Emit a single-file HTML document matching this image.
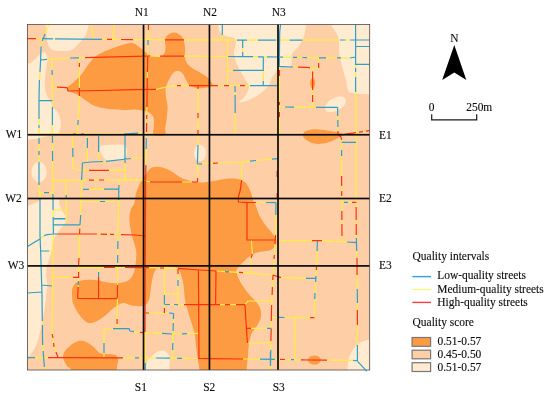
<!DOCTYPE html>
<html><head><meta charset="utf-8"><title>Street quality map</title>
<style>
html,body{margin:0;padding:0;background:#fff;}
body{width:550px;height:399px;overflow:hidden;position:relative;font-family:"Liberation Serif",serif;}
svg{position:absolute;left:0;top:0;}
text{font-family:"Liberation Serif",serif;font-size:11.45px;fill:#0c0c0c;stroke:#0c0c0c;stroke-width:0.12px;}
.st{fill:none;stroke-width:1.2;stroke-linecap:butt;stroke-linejoin:round}
.y{stroke:#ffee40}.b{stroke:#2f9fc8}.r{stroke:#ff3010}
</style></head><body>
<svg width="550" height="399" viewBox="0 0 550 399">
<defs><clipPath id="mc"><rect x="27.4" y="24.45" width="342.3" height="345.55"/></clipPath></defs>

<rect x="27.4" y="24.45" width="342.3" height="345.55" fill="#fecfa6"/>
<g clip-path="url(#mc)">
<path d="M49.6,14.0C43.0,18.0 47.0,32.5 47.0,38.0C47.0,43.5 48.3,44.9 49.6,47.0C50.9,49.1 51.3,49.8 54.7,50.4C58.1,51.0 66.0,51.6 70.0,50.4C74.0,49.2 76.2,46.2 78.9,43.3C81.7,40.4 85.2,37.9 86.5,33.0C87.8,28.1 92.7,17.2 86.5,14.0C80.3,10.8 56.2,10.0 49.6,14.0Z" fill="#feebd0"/>
<path d="M20.0,72.0C22.0,59.9 28.4,65.2 32.0,62.0C35.6,58.8 39.4,54.5 41.6,53.0C43.8,51.5 44.4,51.9 45.4,53.0C46.4,54.1 47.5,56.1 47.5,59.5C47.5,62.9 45.8,68.2 45.4,73.5C45.0,78.8 44.5,86.3 45.4,91.0C46.2,95.7 49.2,98.7 50.5,101.5C51.8,104.3 51.8,106.2 53.0,108.0C54.2,109.8 56.7,110.1 58.0,112.6C59.3,115.1 60.5,119.6 60.7,122.8C60.9,126.0 60.7,129.7 59.4,131.7C58.1,133.7 59.6,134.5 53.0,135.0C46.4,135.5 25.5,145.0 20.0,134.5C14.5,124.0 18.0,84.1 20.0,72.0Z" fill="#feebd0"/>
<path d="M46.5,172.0C46.5,173.7 46.1,175.6 45.5,177.0C44.9,178.4 43.8,179.8 42.8,180.7C41.7,181.5 40.2,182.0 39.0,182.0C37.8,182.0 36.3,181.5 35.2,180.7C34.2,179.8 33.1,178.4 32.5,177.0C31.9,175.6 31.5,173.7 31.5,172.0C31.5,170.3 31.9,168.4 32.5,167.0C33.1,165.6 34.2,164.2 35.2,163.3C36.3,162.5 37.8,162.0 39.0,162.0C40.2,162.0 41.7,162.5 42.8,163.3C43.8,164.2 44.9,165.6 45.5,167.0C46.1,168.4 46.5,170.3 46.5,172.0Z" fill="#feebd0"/>
<path d="M100.0,148.0C100.2,146.8 100.7,146.0 102.0,145.5C103.3,145.0 105.0,145.2 108.0,145.0C111.0,144.8 117.2,144.5 120.0,144.6C122.8,144.7 123.8,144.6 125.0,145.5C126.2,146.4 126.8,148.2 127.0,150.0C127.2,151.8 127.0,154.4 126.5,156.0C126.0,157.6 125.9,158.8 124.0,159.5C122.1,160.2 117.7,160.2 115.0,160.5C112.3,160.8 109.8,161.4 108.0,161.0C106.2,160.6 105.2,159.3 104.0,158.0C102.8,156.7 101.7,154.7 101.0,153.0C100.3,151.3 99.8,149.2 100.0,148.0Z" fill="#feebd0"/>
<path d="M206.0,153.0C206.0,154.4 205.7,155.9 205.2,157.1C204.7,158.3 203.9,159.4 203.0,160.1C202.1,160.8 201.0,161.2 200.0,161.2C199.0,161.2 197.9,160.8 197.0,160.1C196.1,159.4 195.3,158.3 194.8,157.1C194.3,155.9 194.0,154.4 194.0,153.0C194.0,151.6 194.3,150.1 194.8,148.9C195.3,147.7 196.1,146.6 197.0,145.9C197.9,145.2 199.0,144.8 200.0,144.8C201.0,144.8 202.1,145.2 203.0,145.9C203.9,146.6 204.7,147.7 205.2,148.9C205.7,150.1 206.0,151.6 206.0,153.0Z" fill="#feebd0"/>
<path d="M345.7,98.9C346.1,99.8 346.2,101.2 345.8,102.4C345.4,103.7 344.4,105.2 343.1,106.4C341.9,107.7 340.1,109.0 338.5,109.9C336.8,110.8 334.7,111.5 333.0,111.8C331.3,112.1 329.5,112.1 328.2,111.8C326.9,111.4 325.8,110.6 325.3,109.7C324.9,108.8 324.8,107.4 325.2,106.2C325.6,104.9 326.6,103.4 327.9,102.2C329.1,100.9 330.9,99.6 332.5,98.7C334.2,97.8 336.3,97.1 338.0,96.8C339.7,96.5 341.5,96.5 342.8,96.8C344.1,97.2 345.2,98.0 345.7,98.9Z" fill="#feebd0"/>
<path d="M347.4,380.0C342.0,378.3 347.2,373.5 347.4,370.0C347.6,366.5 347.6,362.4 348.7,358.8C349.8,355.2 351.7,351.4 353.8,348.6C355.9,345.8 358.8,343.5 361.4,342.0C364.0,340.5 366.4,340.2 369.5,339.7C372.6,339.2 378.2,332.3 380.0,339.0C381.8,345.7 385.4,373.2 380.0,380.0C374.6,386.8 352.8,381.7 347.4,380.0Z" fill="#feebd0"/>
<path d="M147.0,380.0C143.3,377.0 146.2,366.0 147.0,362.0C147.8,358.0 150.2,357.8 152.0,356.0C153.8,354.2 156.2,352.4 158.0,351.5C159.8,350.6 161.3,350.2 163.0,350.6C164.7,351.0 166.8,352.6 168.0,354.0C169.2,355.4 169.8,357.0 170.0,359.0C170.2,361.0 169.7,362.5 169.5,366.0C169.3,369.5 172.8,377.7 169.0,380.0C165.2,382.3 150.7,383.0 147.0,380.0Z" fill="#feebd0"/>
<path d="M20.0,207.0C21.2,181.3 24.8,206.5 27.0,206.0C29.2,205.5 31.0,204.8 33.0,204.0C35.0,203.2 37.5,201.9 39.0,201.0C40.5,200.1 38.9,199.0 42.0,198.6C45.1,198.2 54.8,197.8 57.7,198.6C60.6,199.4 58.6,201.9 59.2,203.7C59.8,205.5 60.4,207.6 61.4,209.5C62.4,211.4 64.3,213.5 65.0,215.4C65.7,217.3 66.1,219.2 65.7,221.0C65.3,222.8 64.0,224.6 62.8,226.3C61.6,228.0 59.7,229.8 58.5,231.4C57.3,233.0 56.4,233.8 55.5,235.7C54.6,237.6 53.8,240.1 53.0,243.0C52.2,245.9 51.8,250.0 51.0,253.0C50.2,256.0 49.3,258.5 48.5,261.0C47.7,263.5 46.6,264.8 46.3,268.0C46.0,271.2 46.5,277.0 46.7,280.0C46.9,283.0 47.4,283.0 47.3,286.0C47.2,289.0 46.6,293.0 46.0,298.0C45.4,303.0 44.4,310.7 43.5,316.0C42.6,321.3 41.5,325.9 40.5,330.0C39.5,334.1 38.9,337.3 37.8,340.6C36.7,343.9 35.6,346.9 34.0,349.6C32.4,352.3 30.3,355.3 28.0,357.0C25.7,358.7 21.3,385.0 20.0,360.0C18.7,335.0 18.8,232.7 20.0,207.0Z" fill="#feebd0"/>
<path d="M216.7,14.0C202.0,15.7 217.4,21.4 218.0,24.4C218.6,27.4 218.7,30.1 220.0,32.0C221.3,33.9 223.7,35.0 226.0,36.0C228.3,37.0 232.3,37.0 234.0,38.0C235.7,39.0 236.0,39.7 236.0,42.0C236.0,44.3 234.2,49.3 234.0,52.0C233.8,54.7 234.5,56.0 235.0,58.0C235.5,60.0 235.6,61.0 236.8,63.7C238.0,66.4 240.4,71.1 242.0,74.0C243.6,76.9 245.1,79.0 246.3,81.0C247.5,83.0 248.8,84.3 249.0,86.0C249.2,87.7 248.6,89.4 247.7,91.4C246.8,93.4 244.8,96.2 243.4,98.0C242.0,99.8 238.4,101.8 239.0,102.3C239.6,102.8 244.0,101.9 247.0,100.8C250.0,99.7 254.1,97.5 257.0,95.7C259.9,93.9 262.4,92.0 264.5,90.0C266.6,88.0 268.2,86.2 269.5,84.0C270.8,81.8 271.4,78.8 272.5,76.8C273.6,74.8 274.9,73.3 276.0,71.7C277.1,70.1 276.6,68.4 279.0,67.4C281.4,66.5 288.4,68.2 290.6,66.0C292.8,63.8 290.6,57.3 292.0,54.0C293.4,50.7 297.0,49.0 299.0,46.0C301.0,43.0 302.8,39.6 304.0,36.0C305.2,32.4 305.7,28.1 306.0,24.4C306.3,20.7 320.9,15.7 306.0,14.0C291.1,12.3 231.4,12.3 216.7,14.0Z" fill="#feebd0"/>
<path d="M331.0,14.0C322.8,15.7 330.0,21.1 331.0,24.4C332.0,27.7 335.7,31.1 337.0,34.0C338.3,36.9 338.7,39.0 339.0,42.0C339.3,45.0 338.7,48.7 339.0,52.0C339.3,55.3 340.3,59.0 341.0,62.0C341.7,65.0 342.2,67.0 343.0,70.0C343.8,73.0 345.2,76.7 346.0,80.0C346.8,83.3 347.0,87.8 348.0,90.0C349.0,92.2 348.4,92.3 352.0,93.0C355.6,93.7 364.9,94.2 369.6,94.4C374.3,94.6 378.3,107.8 380.0,94.4C381.7,81.0 388.2,27.4 380.0,14.0C371.8,0.6 339.2,12.3 331.0,14.0Z" fill="#feebd0"/>
<path d="M67.0,89.0C66.2,86.8 71.7,84.3 74.0,82.0C76.3,79.7 78.7,77.8 81.0,75.0C83.3,72.2 85.5,68.2 88.0,65.0C90.5,61.8 92.7,58.5 96.0,56.0C99.3,53.5 103.7,51.8 108.0,50.0C112.3,48.2 118.0,46.2 122.0,45.0C126.0,43.8 129.3,42.8 132.0,43.0C134.7,43.2 136.2,44.8 138.0,46.0C139.8,47.2 141.0,48.5 143.0,50.0C145.0,51.5 147.2,53.8 150.0,55.0C152.8,56.2 157.7,57.2 160.0,57.0C162.3,56.8 163.1,55.5 164.0,54.0C164.9,52.5 165.4,50.0 165.6,48.0C165.8,46.0 164.9,43.8 165.0,42.0C165.1,40.2 165.2,38.4 166.0,37.0C166.8,35.6 168.6,34.3 170.0,33.6C171.4,32.9 172.7,32.4 174.4,32.6C176.1,32.8 178.5,33.8 180.0,35.0C181.5,36.2 182.8,37.8 183.6,40.0C184.4,42.2 184.8,45.2 185.0,48.0C185.2,50.8 184.7,54.5 185.0,57.0C185.3,59.5 185.8,61.2 187.0,63.0C188.2,64.8 189.8,66.4 192.0,68.0C194.2,69.6 197.5,70.9 200.0,72.4C202.5,73.9 205.2,75.5 207.0,77.0C208.8,78.5 210.1,80.2 211.0,81.5C211.9,82.8 212.8,84.1 212.6,85.0C212.4,85.9 211.4,86.5 210.0,87.0C208.6,87.5 206.3,87.8 204.0,88.0C201.7,88.2 198.3,88.4 196.0,88.0C193.7,87.6 191.7,86.9 190.0,85.6C188.3,84.3 187.2,81.9 186.0,80.0C184.8,78.1 184.2,75.5 183.0,74.0C181.8,72.5 180.3,71.4 179.0,71.0C177.7,70.6 176.3,70.8 175.0,71.6C173.7,72.4 172.3,73.9 171.0,76.0C169.7,78.1 167.9,81.7 167.0,84.0C166.1,86.3 165.6,87.3 165.5,90.0C165.4,92.7 166.2,97.2 166.5,100.0C166.8,102.8 167.6,103.8 167.6,107.0C167.6,110.2 167.0,115.5 166.6,119.0C166.2,122.5 165.5,125.3 165.2,128.0C164.9,130.7 166.8,133.8 164.9,134.9C163.0,136.1 155.9,136.1 154.0,134.9C152.1,133.8 153.6,130.7 153.6,128.0C153.6,125.3 154.3,121.4 153.8,119.0C153.3,116.6 152.2,114.9 150.5,113.5C148.8,112.1 146.2,111.5 143.6,110.8C141.0,110.1 137.8,109.7 135.0,109.6C132.2,109.5 131.3,110.1 127.0,110.0C122.7,109.9 114.3,109.7 109.0,109.0C103.7,108.3 99.0,107.5 95.0,106.0C91.0,104.5 87.7,101.8 85.0,100.0C82.3,98.2 82.0,97.3 79.0,95.5C76.0,93.7 67.8,91.2 67.0,89.0Z" fill="#fd9b42"/>
<path d="M134.5,203.0C135.3,200.3 135.0,197.2 135.8,194.0C136.7,190.8 137.9,187.4 139.6,184.0C141.3,180.6 143.9,176.4 146.0,173.7C148.1,170.9 149.7,168.6 152.0,167.5C154.3,166.4 157.0,166.5 160.0,167.0C163.0,167.5 166.6,168.8 170.0,170.6C173.4,172.3 177.1,175.8 180.5,177.5C183.9,179.2 187.3,180.2 190.7,181.0C194.1,181.8 197.2,182.6 201.0,182.6C204.8,182.6 209.4,181.6 213.6,181.0C217.8,180.4 222.2,179.2 226.0,178.8C229.8,178.4 233.3,178.2 236.5,178.8C239.7,179.4 243.1,180.5 245.4,182.6C247.7,184.7 249.2,188.6 250.5,191.5C251.8,194.4 252.2,197.8 253.0,200.0C253.8,202.2 254.5,202.4 255.6,205.0C256.7,207.6 257.7,212.0 259.4,215.4C261.1,218.8 263.7,222.6 265.8,225.5C267.9,228.4 270.4,230.9 272.0,233.0C273.6,235.1 274.8,236.5 275.6,238.0C276.4,239.5 276.7,240.6 276.6,242.0C276.5,243.4 276.2,245.1 275.0,246.5C273.8,247.9 272.2,249.6 269.6,250.5C267.0,251.4 262.4,251.3 259.4,252.0C256.4,252.7 254.1,253.5 251.8,254.8C249.5,256.1 247.3,258.3 245.4,260.0C243.5,261.7 241.8,263.3 240.3,265.0C238.8,266.7 236.9,268.1 236.5,270.0C236.1,271.9 237.0,274.1 237.8,276.4C238.7,278.7 239.9,281.2 241.6,284.0C243.3,286.8 245.4,289.8 248.0,293.0C250.6,296.2 254.9,300.1 257.0,303.0C259.1,305.9 260.1,307.9 260.7,310.4C261.3,312.9 261.3,315.4 260.7,318.0C260.1,320.6 258.5,323.2 257.0,325.7C255.5,328.2 253.1,330.0 251.8,333.0C250.5,336.0 249.6,339.7 249.0,343.5C248.4,347.3 248.4,351.6 248.0,356.0C247.6,360.4 246.9,365.2 246.7,370.0C246.4,374.8 254.4,382.5 246.5,385.0C238.6,387.5 207.3,387.5 199.5,385.0C191.7,382.5 199.8,374.0 199.5,370.0C199.2,366.0 198.6,365.0 198.0,361.0C197.4,357.0 196.6,350.7 196.0,346.0C195.4,341.3 195.4,337.2 194.5,333.0C193.6,328.8 191.9,324.8 190.7,320.6C189.4,316.4 187.9,311.4 187.0,308.0C186.1,304.6 185.5,303.0 185.0,300.0C184.5,297.0 184.3,293.0 184.0,290.0C183.7,287.0 183.7,285.0 183.0,282.0C182.3,279.0 181.2,274.4 180.0,272.0C178.8,269.6 178.0,268.5 176.0,267.6C174.0,266.7 170.8,266.5 168.0,266.5C165.2,266.5 161.3,266.5 159.0,267.6C156.7,268.7 155.2,270.3 154.0,273.0C152.8,275.7 152.2,280.3 151.5,284.0C150.8,287.7 150.4,292.3 150.0,295.0C149.6,297.7 149.8,298.3 149.0,300.0C148.2,301.7 147.3,304.0 145.5,305.0C143.7,306.0 140.6,306.2 138.0,306.2C135.4,306.2 132.5,305.5 130.0,305.0C127.5,304.5 125.5,302.7 123.0,303.0C120.5,303.3 117.7,305.2 115.0,307.0C112.3,308.8 109.7,311.8 107.0,314.0C104.3,316.2 101.7,318.5 99.0,320.0C96.3,321.5 93.3,322.8 91.0,323.0C88.7,323.2 87.2,322.7 85.0,321.0C82.8,319.3 80.0,316.0 78.0,313.0C76.0,310.0 74.0,306.0 73.0,303.0C72.0,300.0 72.1,297.5 72.0,295.0C71.9,292.5 71.8,290.0 72.5,288.0C73.2,286.0 74.2,284.3 76.0,283.0C77.8,281.7 80.3,280.5 83.6,280.0C86.9,279.5 91.8,279.5 96.0,280.0C100.2,280.5 105.0,282.3 109.0,282.8C113.0,283.3 116.7,283.5 120.0,283.0C123.3,282.5 126.7,281.8 129.0,280.0C131.3,278.2 132.8,275.3 134.0,272.0C135.2,268.7 135.7,263.7 136.0,260.0C136.3,256.3 136.7,254.1 136.0,250.0C135.3,245.9 133.1,240.6 132.0,235.7C130.9,230.8 129.6,224.7 129.4,220.4C129.2,216.1 129.8,212.9 130.7,210.0C131.5,207.1 133.7,205.7 134.5,203.0Z" fill="#fd9b42"/>
<path d="M63.0,357.0C63.0,354.1 64.8,351.1 67.0,348.6C69.2,346.1 73.2,343.3 76.0,342.0C78.8,340.7 80.8,340.3 83.6,341.0C86.3,341.7 89.9,344.1 92.5,346.0C95.1,347.9 96.7,351.1 99.0,352.4C101.3,353.7 103.8,353.6 106.5,354.0C109.2,354.4 113.5,354.0 115.4,355.0C117.3,356.0 117.8,357.5 118.0,360.0C118.2,362.5 117.0,365.8 116.7,370.0C116.4,374.2 123.5,382.5 116.0,385.0C108.5,387.5 79.5,387.5 72.0,385.0C64.5,382.5 71.8,373.2 71.0,370.0C70.2,366.8 68.3,368.2 67.0,366.0C65.7,363.8 63.0,359.9 63.0,357.0Z" fill="#fd9b42"/>
<path d="M303.0,135.0C303.1,133.8 303.5,132.4 305.0,131.5C306.5,130.6 309.8,129.8 312.0,129.4C314.2,129.1 316.0,129.3 318.0,129.4C320.0,129.5 322.0,129.7 324.0,130.0C326.0,130.3 328.0,130.7 330.0,131.0C332.0,131.3 334.2,131.6 336.0,132.0C337.8,132.4 339.6,132.8 341.0,133.2C342.4,133.6 344.5,134.0 344.5,134.6C344.5,135.2 342.1,136.0 341.0,136.6C339.9,137.2 339.3,137.4 338.0,138.0C336.7,138.6 334.7,139.7 333.0,140.4C331.3,141.1 329.7,141.9 328.0,142.4C326.3,142.9 324.7,143.3 323.0,143.6C321.3,143.9 319.8,144.1 318.0,144.0C316.2,143.9 313.7,143.5 312.0,143.0C310.3,142.5 309.2,141.8 308.0,141.0C306.8,140.2 305.3,139.5 304.5,138.5C303.7,137.5 302.9,136.2 303.0,135.0Z" fill="#fd9b42"/>
<path d="M315.1,83.2C315.1,84.1 315.0,85.0 314.8,85.8C314.6,86.6 314.2,87.3 313.9,87.7C313.5,88.1 313.0,88.4 312.6,88.4C312.2,88.4 311.7,88.1 311.4,87.7C311.0,87.3 310.6,86.6 310.4,85.8C310.2,85.0 310.1,84.1 310.1,83.2C310.1,82.3 310.2,81.4 310.4,80.6C310.6,79.8 311.0,79.1 311.4,78.7C311.7,78.3 312.2,78.0 312.6,78.0C313.0,78.0 313.5,78.3 313.9,78.7C314.2,79.1 314.6,79.8 314.8,80.6C315.0,81.4 315.1,82.3 315.1,83.2Z" fill="#fd9b42"/>
<path d="M320.8,360.0C320.8,360.8 320.5,361.6 319.9,362.2C319.4,362.9 318.5,363.5 317.6,363.9C316.7,364.3 315.5,364.5 314.4,364.5C313.3,364.5 312.1,364.3 311.2,363.9C310.3,363.5 309.4,362.9 308.9,362.2C308.3,361.6 308.0,360.8 308.0,360.0C308.0,359.2 308.3,358.4 308.9,357.8C309.4,357.1 310.3,356.5 311.2,356.1C312.1,355.7 313.3,355.5 314.4,355.5C315.5,355.5 316.7,355.7 317.6,356.1C318.5,356.5 319.4,357.1 319.9,357.8C320.5,358.4 320.8,359.2 320.8,360.0Z" fill="#fd9b42"/>
<path class="st y" d="M36.0,38.7L42.0,38.7M53.0,38.8L55.0,38.9M102.0,39.3L107.0,39.3M112.0,39.4L121.0,39.5M133.0,39.6L135.0,39.6L165.0,39.8M184.0,39.9L237.0,40.2M247.0,40.2L258.0,40.2M276.0,40.1L289.6,40.1M302.4,40.1L340.0,40.0M345.4,40.0L350.0,40.0M49.0,24.4L45.0,34.0L45.0,34.0M42.4,41.0L41.3,46.5M40.0,72.0L40.0,72.0L39.4,80.0L39.4,80.0M39.0,119.0L39.0,125.0M39.0,128.0L39.0,135.0L39.0,138.0M39.0,144.0L39.0,151.0M39.0,155.0L39.0,162.0M39.0,185.0L39.0,185.0L39.9,198.0M42.3,321.0L42.4,325.0M42.6,345.0L42.6,345.0L43.1,351.0M44.4,367.0L44.4,367.0L44.6,370.0M47.0,59.4L47.0,59.4L70.0,58.0L70.0,58.0M79.0,57.8L85.0,57.6L85.0,57.6M150.0,56.0L150.0,56.0L160.0,56.1M184.0,56.2L228.0,56.5M253.0,56.7L258.0,56.8M263.0,56.8L267.0,56.9M277.0,57.0L278.0,57.0L278.7,57.0M283.0,57.1L293.0,57.3M297.0,57.4L302.4,57.5M307.0,57.6L319.0,57.8M326.0,57.8L337.0,57.9M341.0,57.9L350.0,58.0L350.0,58.0M52.0,59.0L52.1,70.0M52.2,75.0L52.4,100.0L52.4,107.0M52.4,125.0L52.4,135.0L52.4,136.0M52.5,143.0L52.5,151.0M52.6,161.0L52.9,194.0M53.1,210.0L53.2,217.0M53.4,234.0L53.4,235.0L52.6,250.0L52.6,300.0L52.0,333.0L52.2,334.0M53.0,338.0L53.0,338.0L53.6,343.0M54.0,347.0L54.0,347.0L56.0,352.0L56.0,352.0M79.4,58.0L79.4,63.0M79.4,67.0L79.4,88.0M79.4,96.0L78.2,120.0M77.9,125.0L77.4,135.0M52.0,87.0L57.0,87.2M156.0,89.4L156.0,89.4L166.0,87.0L176.0,85.6L177.0,85.6M181.0,85.6L189.0,85.6M218.0,85.6L224.0,85.6M229.0,85.6L240.0,85.6M245.0,85.6L250.0,85.6M277.0,85.6L278.0,85.6M91.0,24.4L94.0,39.6M114.0,24.4L113.0,39.6M148.4,30.0L148.1,40.0M148.0,45.0L147.7,56.0M147.4,72.0L147.3,78.0M146.9,107.0L146.7,115.0M146.7,119.0L146.6,123.0M146.5,132.0L146.4,135.0L146.3,138.0M146.2,149.0L145.9,165.0M145.0,332.0L145.0,332.0L145.2,363.0M39.0,134.2L73.0,134.2M76.0,134.2L81.0,134.2M84.0,134.2L120.0,134.2L124.0,134.0L124.0,134.0M138.0,133.2L143.6,133.4M198.0,89.0L198.0,113.0M198.0,118.0L198.0,130.0M198.0,134.0L198.0,145.0L198.0,145.0M197.4,164.0L197.4,164.0L198.0,175.0L197.7,178.0M202.0,163.8L213.0,163.3M218.0,163.0L240.0,162.0L250.0,161.1M256.0,160.5L272.0,159.1M235.1,92.0L235.1,95.0M235.2,113.0L235.4,134.0M227.6,40.0L227.6,86.0M222.3,35.0L222.3,40.0M242.7,48.0L242.7,52.0M263.3,71.0L263.3,81.0M227.6,70.4L233.0,70.4M279.5,67.0L279.5,70.0M279.5,76.0L279.4,102.0M279.4,105.0L279.4,112.0M279.4,117.0L279.4,135.0M276.0,202.4L276.0,203.0M275.8,215.0L275.6,235.0L275.6,235.0M275.0,244.0L275.0,244.0L274.3,255.0M274.0,259.0L273.0,275.0L273.0,275.0M272.8,280.0L272.4,287.0M272.1,295.0L271.6,305.0L271.6,305.0M271.3,321.0L271.2,329.0M270.9,341.0L270.8,350.0M270.5,366.0L270.4,370.0M293.0,67.0L298.0,67.2M310.0,67.6L317.0,68.0L318.6,68.0M318.6,58.0L318.6,63.0M312.6,68.0L312.6,71.6M312.6,90.0L312.6,95.0M312.6,102.0L312.6,107.0M279.0,107.0L285.0,107.0M294.0,107.1L316.0,107.3M337.7,116.0L337.8,120.0M337.9,127.0L338.0,131.0M341.6,140.0L341.6,140.0L341.6,150.0M341.6,156.0L341.6,170.0L341.6,176.0M341.7,186.0L341.7,191.0M341.7,196.0L341.8,211.0M341.9,220.0L341.9,224.0M342.0,236.0L342.0,240.6M355.6,65.0L355.6,68.0M355.6,72.0L355.6,77.0M355.7,92.0L356.0,100.0L356.0,200.0L356.1,207.0M356.2,220.0L356.2,224.0M356.3,235.0L356.4,238.0M356.7,251.0L356.9,258.0M357.1,275.0L357.3,289.0M357.4,303.0L357.4,310.0M357.4,325.0L357.4,345.0M356.0,132.6L359.0,132.2M363.0,131.6L366.0,131.1M342.0,202.4L344.0,202.4M348.0,202.4L352.0,202.4M279.0,240.6L312.0,240.6M322.0,240.6L322.0,240.6L347.0,242.0L347.0,242.0M317.1,251.0L316.6,266.0L316.5,267.0M316.4,270.0L316.0,276.0M315.6,282.0L315.6,282.0L315.0,293.0M314.7,299.0L314.4,305.0L314.4,317.4M271.6,317.4L279.0,317.4M284.5,317.5L310.0,317.6M295.0,317.6L294.6,360.0M35.0,357.6L48.0,357.6M123.0,357.8L135.0,357.8L135.0,357.8M139.0,357.8L156.0,358.0M170.0,358.2L177.0,358.3M182.0,358.3L198.0,358.5M243.0,359.0L260.0,359.2M275.0,359.4L278.0,359.4L280.0,359.4M285.0,359.5L291.0,359.6M294.0,359.7L301.0,359.8M327.0,360.2L353.0,360.4L353.0,360.4M39.5,239.3L40.0,239.0L44.0,235.7L44.0,235.7M97.0,234.0L97.0,234.0L100.6,234.1M107.0,234.3L110.0,234.3M114.0,234.4L121.0,234.6M40.0,192.6L44.0,192.6M49.0,192.6L53.0,192.6M49.0,251.0L52.6,251.0M72.6,135.0L72.8,148.0M72.9,157.0L73.0,168.0M73.0,168.0L77.0,169.4L82.0,169.6M87.4,135.0L87.4,138.0M87.4,148.0L87.4,161.5M98.6,135.0L98.6,136.0M98.6,152.0L98.6,161.0M125.0,163.0L125.0,180.0M103.0,161.5L106.0,161.4L106.0,161.4M131.0,158.5L135.0,158.0L143.6,157.6M82.6,162.0L82.5,163.0M81.6,180.0L81.6,180.0L81.0,200.0L80.7,215.0L80.7,215.0M80.0,225.0L80.0,225.0L79.8,228.5M79.5,234.0L79.5,234.0L79.0,258.0L79.0,258.0M78.6,265.0L78.6,266.0L78.6,272.0M78.6,278.0L78.6,280.0L78.5,281.0M78.3,285.0L78.2,287.0M82.0,170.4L89.0,170.4M109.0,170.4L125.0,170.4M53.0,180.6L89.0,180.2M94.0,180.1L99.0,180.0M104.0,180.0L135.0,179.6L143.6,180.4L150.0,182.0L150.0,182.0M182.0,182.0L192.0,182.0M66.0,180.6L66.2,195.0M66.2,198.0L66.5,222.6M119.0,180.0L118.9,185.0M118.6,200.0L118.0,235.0L117.9,241.0M117.8,249.0L117.7,255.0M117.6,263.0L117.6,265.0L117.5,285.0M117.4,298.0L117.4,298.0L117.1,319.0M117.1,324.0L117.0,328.6M89.0,189.3L104.0,189.2M81.7,201.5L100.0,201.5M105.0,201.5L119.0,201.5M53.4,210.0L66.5,210.0M79.0,267.3L104.0,267.4M115.0,267.5L125.0,267.5M143.6,267.6L143.6,267.6L145.0,267.6M149.0,267.7L160.0,268.0M164.0,268.1L178.0,268.4L178.0,268.4M216.0,271.0L225.0,271.6L225.0,271.6M229.0,271.8L239.0,272.4M243.0,272.6L243.0,272.6L273.0,275.0L273.0,275.0M281.0,277.4L306.0,278.4L306.0,278.4M52.6,277.4L73.0,277.4M98.6,266.0L98.6,272.0M104.0,329.0L104.0,343.0M104.0,353.0L104.0,357.6M104.0,329.0L113.0,328.6L113.0,328.6M134.0,331.6L135.0,331.8L140.0,332.3M143.6,332.6L143.6,332.6L162.0,333.4L162.0,333.4M172.0,334.0L172.0,334.0L182.0,333.8M187.0,333.7L199.0,333.4M164.4,268.0L164.4,295.0M164.4,304.0L164.4,308.0M164.4,293.6L178.0,293.6M178.0,274.0L178.0,280.0M178.0,286.0L178.0,304.6M170.0,304.5L174.0,304.5M178.0,304.6L178.0,304.6L184.0,304.6M220.0,304.6L225.0,304.6M230.0,304.6L236.0,304.6M245.0,304.6L245.0,304.6L248.0,301.0L271.6,301.0M149.0,313.0L169.0,313.0M173.4,319.0L173.3,323.0M173.1,331.0L173.0,335.0L172.8,343.0M172.6,350.0L172.4,358.6M251.0,328.4L267.0,328.4M247.4,343.0L271.0,343.0M241.6,162.0L241.6,180.0M256.0,202.5L266.0,202.5M251.4,240.0L252.4,254.0L252.4,254.0M251.0,258.0L251.0,258.0L250.6,273.0"/>
<path class="st b" d="M42.0,38.7L53.0,38.8M55.0,38.9L102.0,39.3M237.0,40.2L240.0,40.2L247.0,40.2M258.0,40.2L276.0,40.1M289.6,40.1L302.4,40.1M340.0,40.0L345.4,40.0M350.0,40.0L369.6,40.0M45.0,34.0L45.0,34.0L42.6,40.0L42.4,41.0M41.3,46.5L41.0,48.0L40.6,60.0L40.0,72.0L40.0,72.0M39.4,80.0L39.4,80.0L39.0,100.0L39.0,119.0M39.0,125.0L39.0,128.0M39.0,138.0L39.0,144.0M39.0,151.0L39.0,155.0M39.0,162.0L39.0,185.0L39.0,185.0M39.9,198.0L40.0,200.0L40.0,235.0L40.6,250.0L42.0,295.0L42.3,321.0M42.4,325.0L42.6,345.0L42.6,345.0M43.1,351.0L44.4,367.0L44.4,367.0M40.6,60.0L47.0,59.4L47.0,59.4M70.0,58.0L70.0,58.0L79.0,57.8M228.0,56.5L240.0,56.6L253.0,56.7M258.0,56.8L263.0,56.8M267.0,56.9L277.0,57.0M278.7,57.0L283.0,57.1M293.0,57.3L297.0,57.4M302.4,57.5L307.0,57.6M319.0,57.8L320.0,57.8L326.0,57.8M337.0,57.9L341.0,57.9M350.0,58.0L350.0,58.0L355.6,57.0M52.1,70.0L52.2,75.0M52.4,107.0L52.4,125.0M52.4,136.0L52.5,143.0M52.5,151.0L52.6,161.0M52.9,194.0L53.0,200.0L53.1,210.0M53.2,217.0L53.4,234.0M78.2,120.0L77.9,125.0M250.0,85.6L277.0,85.6M39.0,100.6L52.4,100.6M148.1,40.0L148.0,45.0M146.3,138.0L146.2,149.0M145.2,363.0L145.3,370.0M124.0,134.0L124.0,134.0L137.5,133.2L138.0,133.2M198.0,145.0L198.0,145.0L197.4,164.0L197.4,164.0M197.4,164.0L202.0,163.8M250.0,161.1L256.0,160.5M272.0,159.1L277.5,158.6M235.0,86.0L235.1,92.0M235.1,95.0L235.2,113.0M222.3,24.4L222.3,35.0M242.7,40.0L242.7,48.0M242.7,52.0L242.7,56.4M263.3,56.4L263.3,71.0M263.3,81.0L263.3,86.0M233.0,70.4L263.4,70.4M280.6,24.4L279.7,32.0L279.3,67.0M276.0,203.0L275.8,215.0M270.8,350.0L270.5,366.0M279.0,66.4L292.0,67.0L293.0,67.0M285.0,107.0L294.0,107.1M316.0,107.3L337.6,107.4M337.6,107.4L337.7,116.0M337.8,120.0L337.9,127.0M341.6,150.0L341.6,156.0M341.6,142.4L356.0,142.4M355.6,24.4L355.6,65.0M355.6,68.0L355.6,72.0M355.6,77.0L355.6,90.0L355.7,92.0M356.4,238.0L356.4,240.0L356.7,251.0M357.3,289.0L357.4,300.0L357.4,303.0M357.4,345.0L357.4,361.0M355.6,46.5L369.7,46.5M355.6,64.4L369.7,64.4M344.0,202.4L348.0,202.4M347.0,242.0L347.0,242.0L357.0,242.6M317.4,241.0L317.1,251.0M316.0,276.0L315.6,282.0L315.6,282.0M315.0,293.0L314.7,299.0M279.0,317.4L284.5,317.5M27.4,357.6L35.0,357.6M135.0,357.8L135.0,357.8L139.0,357.8M156.0,358.0L170.0,358.2M177.0,358.3L182.0,358.3M260.0,359.2L275.0,359.4M291.0,359.6L294.0,359.7M353.0,360.4L353.0,360.4L358.0,361.0M270.4,352.0L270.4,366.0M27.4,246.6L39.5,239.3M44.0,235.7L44.0,235.7L47.0,234.6L53.0,234.0L58.0,234.0M44.0,192.6L49.0,192.6M40.6,251.0L49.0,251.0M41.4,285.0L52.0,286.0M27.4,293.0L41.4,292.0M72.8,148.0L72.9,157.0M87.4,138.0L87.4,148.0M98.6,136.0L98.6,152.0M125.0,135.0L125.0,163.0M82.0,163.0L91.0,162.0L103.0,161.5M106.0,161.4L106.0,161.4L131.0,158.5M82.5,163.0L81.6,180.0L81.6,180.0M80.7,215.0L80.7,215.0L80.0,225.0L80.0,225.0M78.5,281.0L78.3,285.0M66.2,195.0L66.2,198.0M118.9,185.0L118.6,200.0M117.9,241.0L117.8,249.0M117.7,255.0L117.6,263.0M83.0,189.4L89.0,189.3M104.0,189.2L119.0,189.0M100.0,201.5L105.0,201.5M53.4,224.8L80.0,224.8M225.0,271.6L225.0,271.6L229.0,271.8M306.0,278.4L306.0,278.4L315.6,278.4M98.6,272.0L98.6,277.0M104.0,343.0L104.0,353.0M113.0,328.6L113.0,328.6L129.0,328.6L130.0,331.0L134.0,331.6M162.0,333.4L162.0,333.4L172.0,334.0L172.0,334.0M182.0,333.8L187.0,333.7M164.4,295.0L164.4,304.0M178.0,280.0L178.0,286.0M164.4,304.4L170.0,304.5M174.0,304.5L178.0,304.6L178.0,304.6M169.0,313.0L170.0,313.0L173.6,313.6M173.6,313.6L173.4,319.0M173.3,323.0L173.1,331.0M172.8,343.0L172.6,350.0M267.0,328.4L271.6,328.4M266.0,202.5L276.0,202.6"/>
<path class="st r" d="M27.0,38.6L36.0,38.7M107.0,39.3L112.0,39.4M121.0,39.5L133.0,39.6M165.0,39.8L184.0,39.9M85.0,57.6L85.0,57.6L135.0,56.4L150.0,56.0L150.0,56.0M160.0,56.1L184.0,56.2M52.2,334.0L53.0,338.0L53.0,338.0M53.6,343.0L54.0,347.0L54.0,347.0M56.0,352.0L56.0,352.0L58.0,357.4M79.4,63.0L79.4,67.0M79.4,88.0L79.4,95.0L79.4,96.0M57.0,87.2L67.0,87.6L68.0,91.0L100.0,90.5L135.0,89.6L156.0,89.4L156.0,89.4M177.0,85.6L181.0,85.6M189.0,85.6L218.0,85.6M224.0,85.6L229.0,85.6M240.0,85.6L245.0,85.6M148.5,24.4L148.4,30.0M147.7,56.0L147.6,60.0L147.4,72.0M147.3,78.0L147.0,100.0L146.9,107.0M146.7,115.0L146.7,119.0M146.6,123.0L146.5,132.0M145.9,165.0L145.6,182.0L145.2,267.0L145.0,332.0L145.0,332.0M73.0,134.2L76.0,134.2M81.0,134.2L84.0,134.2M198.0,85.6L198.0,89.0M198.0,113.0L198.0,118.0M198.0,130.0L198.0,134.0M197.7,178.0L197.4,182.0M213.0,163.3L218.0,163.0M279.5,70.0L279.5,76.0M279.4,102.0L279.4,105.0M279.4,112.0L279.4,117.0M277.1,171.0L277.1,177.0M277.1,193.0L277.1,198.0M275.6,235.0L275.6,235.0L275.0,244.0L275.0,244.0M274.3,255.0L274.0,259.0M273.0,275.0L273.0,275.0L272.8,280.0M272.4,287.0L272.1,295.0M271.6,305.0L271.6,305.0L271.3,321.0M271.2,329.0L270.9,341.0M298.0,67.2L306.0,67.4L310.0,67.6M318.6,63.0L318.6,68.0M312.6,71.6L312.6,90.0M312.6,95.0L312.6,102.0M338.0,131.0L338.0,134.0L341.0,137.0L341.6,140.0L341.6,140.0M341.6,176.0L341.7,186.0M341.7,191.0L341.7,196.0M341.8,211.0L341.9,220.0M341.9,224.0L342.0,236.0M356.1,207.0L356.2,220.0M356.2,224.0L356.3,235.0M356.9,258.0L357.0,260.0L357.1,275.0M357.4,310.0L357.4,325.0M344.0,134.4L356.0,132.6M359.0,132.2L363.0,131.6M366.0,131.1L369.6,130.6M352.0,202.4L356.4,202.4M312.0,240.6L322.0,240.6L322.0,240.6M316.5,267.0L316.4,270.0M310.0,317.6L314.4,317.6M48.0,357.6L123.0,357.8M198.0,358.5L209.0,358.6L240.0,359.0L243.0,359.0M280.0,359.4L285.0,359.5M301.0,359.8L310.0,360.0L327.0,360.2M58.0,234.0L97.0,234.0L97.0,234.0M100.6,234.1L107.0,234.3M110.0,234.3L114.0,234.4M121.0,234.6L135.0,235.0L145.6,236.0M79.8,228.5L79.5,234.0L79.5,234.0M79.0,258.0L79.0,258.0L78.6,265.0M78.6,272.0L78.6,278.0M78.2,287.0L77.6,298.0M89.0,170.4L109.0,170.4M89.0,180.2L94.0,180.1M99.0,180.0L104.0,180.0M150.0,182.0L150.0,182.0L182.0,182.0M192.0,182.0L197.4,182.0M117.5,285.0L117.4,298.0L117.4,298.0M117.1,319.0L117.1,324.0M104.0,267.4L115.0,267.5M125.0,267.5L143.6,267.6L143.6,267.6M145.0,267.6L149.0,267.7M160.0,268.0L164.0,268.1M178.0,268.4L178.0,268.4L200.0,270.0L216.0,271.0M239.0,272.4L243.0,272.6L243.0,272.6M273.0,275.0L273.0,275.0L280.0,277.4L281.0,277.4M73.0,277.4L78.6,277.4M98.6,277.0L98.6,298.0M77.4,298.4L117.4,298.6M140.0,332.3L143.6,332.6L143.6,332.6M164.4,308.0L164.4,313.0M178.0,269.0L178.0,274.0M184.0,304.6L220.0,304.6M225.0,304.6L230.0,304.6M236.0,304.6L245.0,304.6L245.0,304.6M145.6,313.0L149.0,313.0M198.4,270.0L199.0,358.6M216.0,270.6L215.6,304.6M245.0,304.6L246.4,328.0L247.4,343.0M246.4,328.4L251.0,328.4M241.6,180.0L240.3,190.0L238.4,197.0L238.4,202.0L247.0,202.4L247.0,240.0L275.6,240.0M247.0,202.4L256.0,202.5M252.4,254.0L252.4,254.0L251.0,258.0L251.0,258.0"/>
<path class="st b" style="stroke-width:1.6" d="M53.4,218.7L65.4,218.7"/>
</g>
<rect x="142.70000000000002" y="24.45" width="1.7" height="345.55" fill="#0a0a0a"/>
<rect x="208.6" y="24.45" width="1.7" height="345.55" fill="#0a0a0a"/>
<rect x="277.15" y="24.45" width="1.7" height="345.55" fill="#0a0a0a"/>
<rect x="27.4" y="133.9" width="342.3" height="1.7" fill="#0a0a0a"/>
<rect x="27.4" y="197.65" width="342.3" height="1.7" fill="#0a0a0a"/>
<rect x="27.4" y="265.04999999999995" width="342.3" height="1.7" fill="#0a0a0a"/>
<rect x="27.4" y="24.45" width="342.3" height="345.55" fill="none" stroke="#463f44" stroke-width="0.75"/>

<path class="st b" d="M357.6,361.4L366.9,371.4"/>
<text x="141.8" y="16.2" text-anchor="middle">N1</text>
<text x="210" y="16.2" text-anchor="middle">N2</text>
<text x="278.7" y="16.2" text-anchor="middle">N3</text>
<text x="140.9" y="390.6" text-anchor="middle">S1</text>
<text x="209.2" y="390.6" text-anchor="middle">S2</text>
<text x="278.8" y="390.6" text-anchor="middle">S3</text>
<text x="14" y="137.9" text-anchor="middle">W1</text>
<text x="13.6" y="201.9" text-anchor="middle">W2</text>
<text x="16.1" y="268.7" text-anchor="middle">W3</text>
<text x="385.4" y="139.2" text-anchor="middle">E1</text>
<text x="385.4" y="201.8" text-anchor="middle">E2</text>
<text x="385.4" y="269.1" text-anchor="middle">E3</text>
<text x="454.3" y="41.7" text-anchor="middle">N</text>
<path d="M454.3,45L466.3,80.1L454.3,72.6L442.2,80.1Z" fill="#000"/>
<text x="431.7" y="110.8" text-anchor="middle">0</text>
<text x="466.2" y="110.8">250m</text>
<path d="M431.7,114.2V119.9H476.7V114.2" fill="none" stroke="#1a1a1a" stroke-width="1.2"/>
<text x="412.6" y="260">Quality intervals</text>
<path d="M412.4,276.6H431" stroke="#28a4e0" stroke-width="1.4"/>
<path d="M412.4,289.5H431" stroke="#f8f870" stroke-width="1.3"/>
<path d="M412.4,302.4H431" stroke="#ff3a40" stroke-width="1.4"/>
<text x="437.3" y="279.2">Low-quality streets</text>
<text x="437.3" y="292.5">Medium-quality streets</text>
<text x="437.3" y="305.7">High-quality streets</text>
<text x="412.6" y="325.7">Quality score</text>
<rect x="412.1" y="337.5" width="18.5" height="8.8" fill="#fd9b42" stroke="#777" stroke-width="1.2"/>
<rect x="412.1" y="350.2" width="18.5" height="8.6" fill="#fecfa6" stroke="#777" stroke-width="1.2"/>
<rect x="412.1" y="362.7" width="18.5" height="8.8" fill="#feebd0" stroke="#777" stroke-width="1.2"/>
<text x="437.5" y="345.3">0.51-0.57</text>
<text x="437.5" y="358.2">0.45-0.50</text>
<text x="437.5" y="371">0.51-0.57</text>

</svg></body></html>
